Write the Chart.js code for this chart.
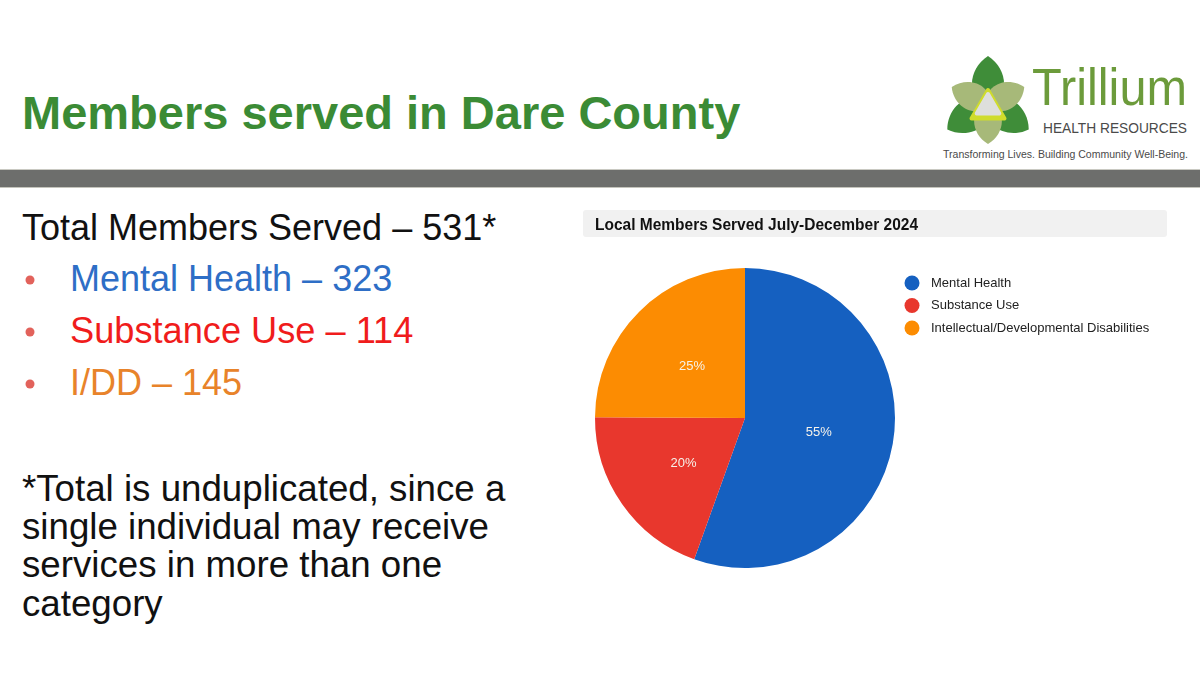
<!DOCTYPE html>
<html>
<head>
<meta charset="utf-8">
<script src="https://cdn.jsdelivr.net/npm/chart.js@4.4.1/dist/chart.umd.min.js"></script>
<style>
  html, body { margin: 0; padding: 0; background: #ffffff; }
  #slide { position: relative; width: 1200px; height: 678px; overflow: hidden; background: #ffffff; }
  #deco { position: absolute; left: 0; top: 0; }
  #chartWrap { position: absolute; left: 583px; top: 205px; width: 600px; height: 395px; }
</style>
</head>
<body>
<div id="slide">
  <svg id="deco" width="1200" height="678" xmlns="http://www.w3.org/2000/svg" font-family="'Liberation Sans', Arial, Helvetica, sans-serif">
    <!-- slide title -->
    <text x="22" y="129" font-size="47" font-weight="bold" fill="#3b8b35">Members served in Dare County</text>
    <!-- grey band -->
    <rect x="0" y="169" width="1200" height="1" fill="#c9c9c2"/>
    <rect x="0" y="170" width="1200" height="17" fill="#6d6e6c"/>
    <rect x="0" y="187" width="1200" height="1" fill="#c4c4bc"/>
    <!-- logo -->
    <g id="flower"></g>
    <text x="1032" y="105" font-size="52" fill="#6c9b3b" textLength="155" lengthAdjust="spacingAndGlyphs">Trillium</text>
    <text x="1043" y="133" font-size="14.5" fill="#4a4a4a" textLength="144" lengthAdjust="spacingAndGlyphs">HEALTH RESOURCES</text>
    <text x="943" y="158" font-size="10.5" fill="#4a4a4a" textLength="245" lengthAdjust="spacingAndGlyphs">Transforming Lives. Building Community Well-Being.</text>
    <!-- left text -->
    <text x="22" y="240" font-size="36" fill="#111111">Total Members Served – 531*</text>
    <circle cx="30" cy="280" r="4.5" fill="#e2625b"/>
    <circle cx="30" cy="332" r="4.5" fill="#e2625b"/>
    <circle cx="30" cy="384" r="4.5" fill="#e2625b"/>
    <text x="70" y="291" font-size="36" fill="#2e6ec6">Mental Health – 323</text>
    <text x="70" y="343" font-size="36.2" fill="#f01c1c">Substance Use – 114</text>
    <text x="70" y="395" font-size="36" fill="#e8832a">I/DD – 145</text>
    <text x="22" y="501" font-size="36.7" fill="#111111">*Total is unduplicated, since a</text>
    <text x="22" y="539" font-size="36.7" fill="#111111">single individual may receive</text>
    <text x="22" y="577" font-size="36.7" fill="#111111">services in more than one</text>
    <text x="22" y="616" font-size="36.7" fill="#111111">category</text>
  </svg>
  <div id="chartWrap"><canvas id="pie" width="600" height="395"></canvas></div>
</div>
<script>
// ---- data ----
const chartTitle = 'Local Members Served July-December 2024';
const categories = ['Mental Health', 'Substance Use', 'Intellectual/Developmental Disabilities'];
const members = [323, 114, 145];
const sliceColors = ['#1560c0', '#e8372d', '#fc8c02'];

// ---- logo flower (decoration) ----
(function () {
  const g = document.getElementById('flower');
  const C = [988, 104];
  function leaf(angleDeg, len, w, back, fill) {
    const a = angleDeg * Math.PI / 180;
    const d = [Math.cos(a), Math.sin(a)];
    const n = [-d[1], d[0]];
    const B = [C[0] - d[0] * back, C[1] - d[1] * back];
    const T = [C[0] + d[0] * len, C[1] + d[1] * len];
    const L = len + back;
    const p = (t, s) => [(B[0] + d[0] * L * t + n[0] * s).toFixed(1), (B[1] + d[1] * L * t + n[1] * s).toFixed(1)].join(',');
    const path = document.createElementNS('http://www.w3.org/2000/svg', 'path');
    path.setAttribute('d', 'M' + p(0, 0) + ' C' + p(0.15, w) + ' ' + p(0.75, w * 0.95) + ' ' + T.join(',') +
      ' C' + p(0.75, -w * 0.95) + ' ' + p(0.15, -w) + ' ' + p(0, 0) + 'Z');
    path.setAttribute('fill', fill);
    g.appendChild(path);
  }
  [-90, 148, 32].forEach(a => leaf(a, 48, 22, 4, '#3f8d39'));
  [90, 205, 335].forEach(a => leaf(a, 40, 19, 2, '#a7b979'));
  const tri = (r, fill, cy) => {
    const pts = [-90, 30, 150].map(a => [C[0] + r * Math.cos(a * Math.PI / 180), cy + r * Math.sin(a * Math.PI / 180)].map(v => v.toFixed(1)).join(','));
    const poly = document.createElementNS('http://www.w3.org/2000/svg', 'polygon');
    poly.setAttribute('points', pts.join(' '));
    poly.setAttribute('fill', fill);
    poly.setAttribute('stroke', fill);
    poly.setAttribute('stroke-width', '4');
    poly.setAttribute('stroke-linejoin', 'round');
    g.appendChild(poly);
  };
  tri(19, '#cfdc2c', 109);
  tri(13, '#dedfdc', 107);
})();

// ---- chart plugins ----
const titleBox = {
  id: 'titleBox',
  beforeDraw(chart, args, opts) {
    const ctx = chart.ctx;
    ctx.save();
    ctx.fillStyle = '#f1f1f1';
    ctx.beginPath();
    if (ctx.roundRect) ctx.roundRect(0, 5, 584, 27, 3); else ctx.rect(0, 5, 584, 27);
    ctx.fill();
    ctx.fillStyle = '#111111';
    ctx.font = 'bold 16.2px "Liberation Sans", Arial, sans-serif';
    ctx.textBaseline = 'alphabetic';
    ctx.fillText(opts.text, 12, 25, 323);
    ctx.restore();
  }
};

const sideLegend = {
  id: 'sideLegend',
  afterDraw(chart) {
    const ctx = chart.ctx;
    const ds = chart.data.datasets[0];
    ctx.save();
    ctx.font = '13px "Liberation Sans", Arial, sans-serif';
    ctx.textBaseline = 'middle';
    chart.data.labels.forEach((lab, i) => {
      const y = 78 + i * 22.5;
      ctx.fillStyle = ds.backgroundColor[i];
      ctx.beginPath();
      ctx.arc(329, y, 7.5, 0, Math.PI * 2);
      ctx.fill();
      ctx.fillStyle = '#222222';
      ctx.fillText(lab, 348, y);
    });
    ctx.restore();
  }
};

const sliceLabels = {
  id: 'sliceLabels',
  afterDatasetsDraw(chart) {
    const ctx = chart.ctx;
    const meta = chart.getDatasetMeta(0);
    const vals = chart.data.datasets[0].data;
    const total = vals.reduce((a, b) => a + b, 0);
    ctx.save();
    ctx.font = '13px "Liberation Sans", Arial, sans-serif';
    ctx.fillStyle = '#f6f2ea';
    ctx.textAlign = 'center';
    ctx.textBaseline = 'middle';
    meta.data.forEach((arc, i) => {
      const pt = arc.getCenterPoint();
      ctx.fillText(Math.round(vals[i] / total * 100) + '%', pt.x, pt.y + 2);
    });
    ctx.restore();
  }
};

new Chart(document.getElementById('pie'), {
  type: 'pie',
  data: {
    labels: categories,
    datasets: [{
      data: members,
      backgroundColor: sliceColors,
      borderWidth: 0,
      hoverOffset: 0,
      offset: 0
    }]
  },
  options: {
    responsive: false,
    animation: false,
    events: [],
    layout: { padding: { top: 63, left: 12, right: 288, bottom: 32 } },
    plugins: {
      legend: { display: false },
      tooltip: { enabled: false },
      title: { display: false },
      titleBox: { text: chartTitle }
    }
  },
  plugins: [titleBox, sideLegend, sliceLabels]
});
</script>
</body>
</html>
